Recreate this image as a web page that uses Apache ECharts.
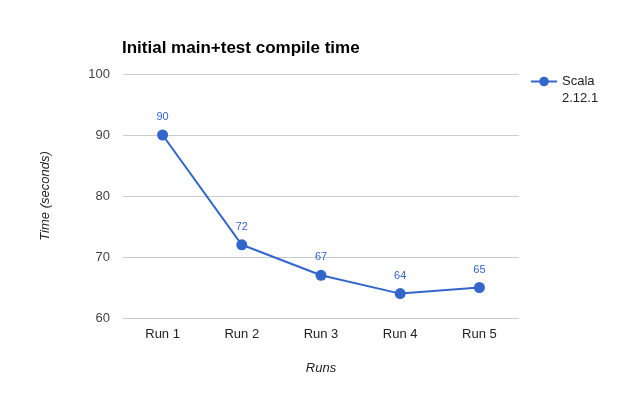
<!DOCTYPE html>
<html><head><meta charset="utf-8">
<script src="https://cdn.jsdelivr.net/npm/echarts@6/dist/echarts.min.js"></script>
<style>html,body{margin:0;padding:0;background:#fff}#c{width:640px;height:396px}</style>
</head><body><div id="c"></div>
<script>
const categories = ['Run 1','Run 2','Run 3','Run 4','Run 5'];
const scalaValues = [90, 72, 67, 64, 65];
const seriesName = 'Scala\n2.12.1';
const chart = echarts.init(document.getElementById('c'));
const F = 'Arial, "Liberation Sans", sans-serif';
chart.setOption({
  animation: false,
  title: { text: 'Initial main+test compile time', left: 117, top: 35,
    textStyle: { fontFamily: F, fontSize: 17, fontWeight: 'bold', color: '#000' } },
  legend: { left: 525, top: 51, orient: 'vertical', itemWidth: 26, itemHeight: 12, itemGap: 4,
    data: [seriesName], formatter: function (n) { return ' \n' + n; },
    textStyle: { fontFamily: F, fontSize: 13, color: '#222', lineHeight: 17 } },
  grid: { left: 123, right: 121, top: 74, bottom: 78 },
  xAxis: { type: 'category', data: categories, boundaryGap: true,
    name: 'Runs', nameLocation: 'middle', nameGap: 44,
    nameTextStyle: { fontFamily: F, fontSize: 13, fontStyle: 'italic', color: '#222' },
    axisLine: { show: false }, axisTick: { show: false },
    axisLabel: { fontFamily: F, fontSize: 13, color: '#222', margin: 10 } },
  yAxis: { type: 'value', min: 60, max: 100, interval: 10,
    name: 'Time (seconds)', nameLocation: 'middle', nameGap: 71,
    nameTextStyle: { fontFamily: F, fontSize: 13, fontStyle: 'italic', color: '#222' },
    axisLine: { show: false }, axisTick: { show: false },
    axisLabel: { fontFamily: F, fontSize: 13, color: '#444', margin: 13 },
    splitLine: { lineStyle: { color: '#cccccc', width: 1 } } },
  series: [{ name: seriesName, type: 'line', data: scalaValues,
    symbol: 'circle', symbolSize: 11,
    itemStyle: { color: '#3366cc' }, lineStyle: { color: '#3366cc', width: 2 },
    label: { show: true, position: 'top', distance: 7, fontFamily: F, fontSize: 11, color: '#3366cc' } }]
});
</script></body></html>
